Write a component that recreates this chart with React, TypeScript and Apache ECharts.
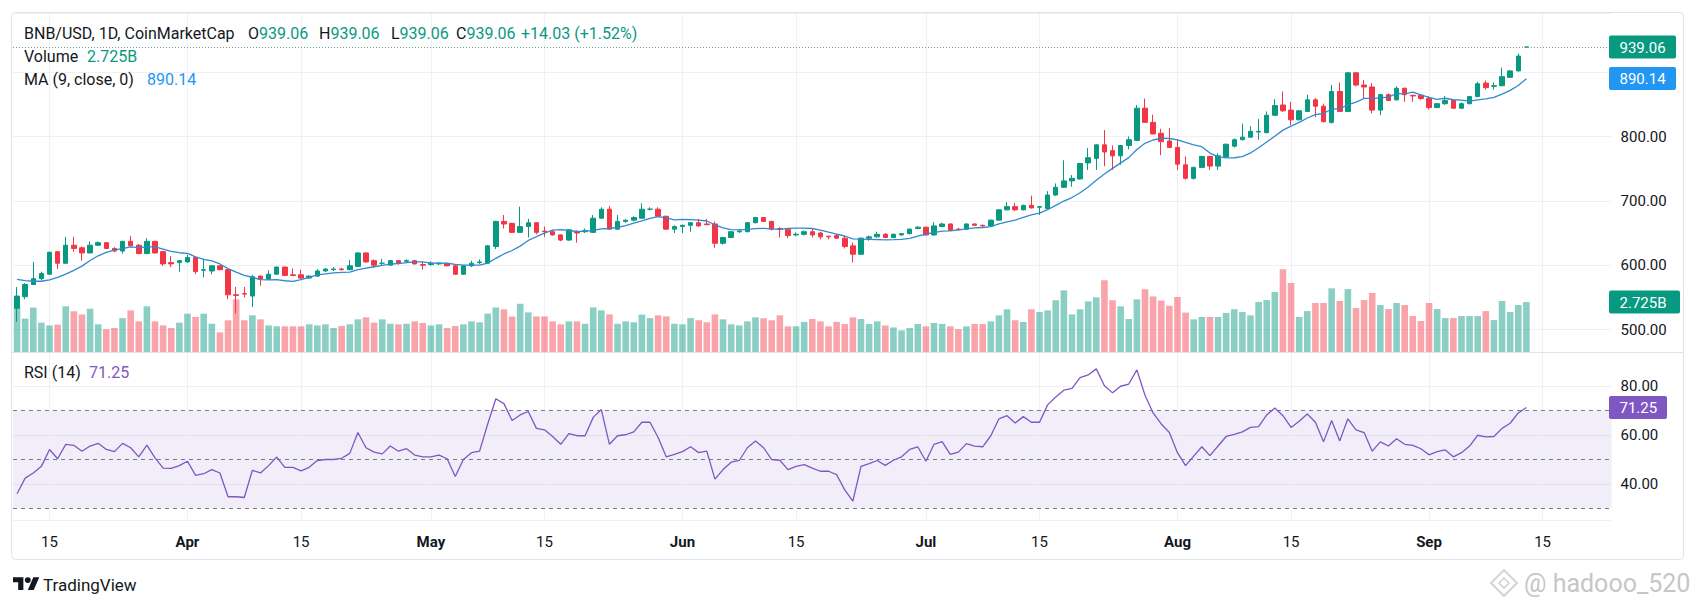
import React, { useEffect, useRef } from "react";
import * as echarts from "echarts";

// ---------------- DATA ----------------
const FIRST_DAY_UTC = Date.UTC(2025, 2, 11); // 2025-03-11
const SLOT_COUNT = 197; // bars shown + empty future space on the time axis
const MONTH_NAMES = ["Jan", "Feb", "Mar", "Apr", "May", "Jun", "Jul", "Aug", "Sep", "Oct", "Nov", "Dec"];

const opens = [
  533, 551, 570, 579, 586, 621, 603, 631, 627, 619,
  631, 635, 626, 622, 637, 631, 618, 637, 621, 604,
  604, 605, 612, 592, 591, 599, 593, 554, 556, 552,
  583, 578, 586, 597, 585, 585, 580, 583, 591, 593,
  594, 593, 598, 619, 607, 603, 600, 607, 606, 607,
  601, 601, 602, 602, 599, 586, 599, 604, 603, 629,
  668, 665, 651, 660, 666, 653, 652, 647, 639, 652,
  652, 651, 673, 687, 656, 668, 670, 673, 687, 687,
  676, 656, 660, 662, 666, 664, 664, 634, 643, 652,
  652, 666, 674, 668, 657, 656, 647, 648, 652, 650,
  645, 646, 642, 630, 617, 642, 644, 648, 643, 647,
  649, 657, 659, 647, 660, 664, 656, 656, 664, 662,
  661, 670, 686, 691, 686, 693, 690, 688, 709, 721,
  731, 734, 759, 766, 787, 778, 770, 786, 794, 844,
  822, 805, 793, 783, 756, 735, 752, 769, 754, 768,
  785, 795, 799, 807, 806, 833, 849, 841, 826, 839,
  857, 847, 822, 870, 839, 899, 880, 877, 841, 865,
  857, 875, 864, 864, 859, 845, 851, 856, 844, 851,
  862, 883, 878, 879, 892, 902, 939.06,
];
const closes = [
  552, 570, 579, 587, 620, 603, 631, 626, 619, 631,
  635, 626, 622, 637, 630, 618, 637, 619, 602, 602,
  607, 612, 590, 593, 599, 593, 554, 553, 555, 582,
  578, 586, 597, 584, 584, 580, 583, 591, 594, 594,
  593, 599, 619, 605, 600, 603, 607, 603, 607, 602,
  600, 603, 603, 599, 586, 599, 603, 605, 630, 668,
  664, 651, 660, 666, 651, 652, 647, 639, 655, 650,
  654, 673, 687, 656, 668, 670, 674, 687, 687, 676,
  656, 660, 662, 666, 661, 663, 634, 643, 652, 653,
  666, 674, 668, 656, 656, 646, 648, 652, 647, 644,
  644, 642, 629, 617, 642, 644, 648, 643, 648, 649,
  656, 659, 647, 661, 664, 654, 655, 664, 662, 661,
  670, 686, 691, 686, 693, 689, 691, 709, 721, 731,
  735, 758, 767, 787, 776, 770, 786, 795, 844, 822,
  804, 792, 783, 757, 735, 752, 769, 754, 770, 788,
  795, 799, 808, 808, 833, 848, 840, 826, 840, 857,
  847, 823, 870, 839, 899, 880, 877, 841, 865, 856,
  875, 865, 863, 859, 845, 851, 856, 844, 851, 862,
  882, 876, 879, 893, 902, 925.03, 939.06,
];
const highs = [
  566, 572, 605, 590, 621, 622, 644, 644, 629, 637,
  637, 636, 628, 638, 645, 633, 642, 638, 622, 614,
  608, 616, 613, 610, 600, 600, 594, 566, 566, 585,
  584, 592, 598, 598, 595, 593, 584, 594, 595, 597,
  596, 608, 620, 620, 609, 610, 608, 608, 609, 608,
  605, 606, 605, 604, 600, 600, 607, 609, 631, 669,
  678, 666, 691, 672, 667, 660, 655, 648, 656, 654,
  657, 678, 690, 692, 678, 671, 676, 696, 690, 690,
  677, 662, 663, 667, 672, 672, 668, 644, 653, 656,
  667, 675, 675, 669, 659, 657, 651, 654, 657, 652,
  646, 648, 645, 635, 643, 646, 652, 650, 649, 650,
  657, 661, 660, 667, 666, 665, 658, 665, 665, 663,
  671, 687, 698, 697, 694, 708, 692, 715, 727, 763,
  740, 759, 782, 788, 810, 786, 787, 800, 849, 859,
  834, 812, 813, 795, 769, 753, 770, 770, 774, 789,
  797, 820, 816, 827, 839, 858, 870, 854, 841, 865,
  860, 851, 880, 884, 900, 900, 888, 883, 866, 867,
  878, 876, 865, 866, 863, 852, 863, 857, 853, 863,
  885, 887, 884, 907, 903, 929, 939.06,
];
const lows = [
  512, 547, 569, 577, 585, 594, 602, 621, 607, 618,
  630, 625, 620, 618, 629, 617, 617, 618, 599, 597,
  590, 604, 586, 581, 586, 592, 547, 525, 550, 535,
  568, 577, 585, 583, 583, 579, 579, 582, 590, 591,
  592, 592, 597, 604, 596, 600, 599, 601, 604, 601,
  593, 599, 600, 598, 585, 585, 597, 602, 602, 625,
  657, 650, 650, 643, 648, 644, 646, 637, 638, 635,
  650, 650, 672, 655, 655, 666, 668, 672, 685, 675,
  655, 650, 650, 652, 660, 662, 627, 632, 642, 650,
  651, 665, 667, 654, 643, 642, 645, 646, 643, 640,
  640, 641, 626, 604, 616, 638, 643, 642, 642, 646,
  648, 656, 646, 646, 659, 653, 654, 655, 661, 660,
  660, 669, 685, 684, 685, 688, 678, 687, 708, 720,
  722, 733, 748, 748, 754, 748, 756, 780, 793, 821,
  803, 771, 782, 748, 733, 733, 751, 748, 748, 767,
  783, 794, 798, 795, 805, 832, 838, 818, 825, 838,
  830, 822, 820, 838, 838, 878, 859, 836, 833, 855,
  856, 854, 854, 857, 842, 844, 849, 843, 843, 850,
  861, 873, 873, 878, 891, 901, 939.06,
];
// volume in billions USD
const volumesB = [
  2.45, 1.82, 2.42, 1.60, 1.45, 1.49, 2.49, 2.22, 2.05, 2.36,
  1.51, 1.24, 1.31, 1.85, 2.27, 1.67, 2.49, 1.67, 1.45, 1.31,
  1.60, 2.09, 1.91, 2.09, 1.54, 1.07, 1.73, 2.87, 1.73, 2.00,
  1.78, 1.45, 1.40, 1.40, 1.40, 1.40, 1.51, 1.45, 1.51, 1.31,
  1.42, 1.51, 1.78, 1.89, 1.60, 1.78, 1.54, 1.51, 1.54, 1.67,
  1.58, 1.45, 1.51, 1.31, 1.42, 1.51, 1.67, 1.62, 2.09, 2.43,
  2.33, 1.94, 2.63, 2.16, 1.94, 1.94, 1.67, 1.51, 1.67, 1.67,
  1.54, 2.43, 2.27, 2.05, 1.54, 1.67, 1.62, 2.04, 1.85, 2.00,
  1.94, 1.54, 1.51, 1.85, 1.73, 1.62, 2.05, 1.78, 1.51, 1.45,
  1.67, 1.89, 1.84, 1.73, 2.00, 1.40, 1.40, 1.64, 1.80, 1.67,
  1.40, 1.64, 1.53, 1.89, 1.80, 1.53, 1.67, 1.45, 1.34, 1.18,
  1.31, 1.53, 1.40, 1.58, 1.53, 1.40, 1.25, 1.40, 1.53, 1.53,
  1.67, 2.00, 2.33, 1.73, 1.64, 2.33, 2.18, 2.27, 2.82, 3.36,
  2.05, 2.33, 2.76, 2.98, 3.91, 2.82, 2.49, 1.80, 2.87, 3.42,
  3.03, 2.80, 2.52, 3.00, 2.15, 1.78, 1.91, 1.91, 1.91, 2.13,
  2.33, 2.18, 2.00, 2.73, 2.83, 3.27, 4.51, 3.76, 1.91, 2.23,
  2.67, 2.67, 3.47, 2.78, 3.43, 2.40, 2.83, 3.22, 2.56, 2.34,
  2.67, 2.56, 1.96, 1.69, 2.67, 2.34, 1.85, 1.85, 1.96, 1.96,
  1.96, 2.23, 1.74, 2.78, 2.18, 2.56, 2.725,
];
const rsiValues = [
  36, 42.4, 44.5, 47.2, 54.1, 50.3, 56.2, 55.8, 53.4, 55.5,
  56.6, 54.1, 53.2, 56.6, 54.8, 51.1, 55.9, 50.7, 46.5, 46.4,
  47.5, 49.3, 43.5, 44.2, 45.9, 44.5, 34.8, 34.8, 34.5, 45.6,
  44.5, 47.5, 51.0, 46.8, 46.8, 45.4, 46.8, 49.6, 50.0, 50.0,
  50.5, 52.5, 61.0, 54.8, 53.0, 52.3, 55.5, 53.4, 54.4, 51.8,
  51.1, 51.1, 51.8, 50.3, 43.1, 50.0, 52.8, 53.4, 64.5, 74.8,
  72.8, 65.9, 68.2, 69.6, 62.7, 62.1, 59.4, 56.2, 60.6, 59.7,
  59.7, 67.2, 70.4, 56.2, 59.7, 60.1, 61.3, 65.2, 65.2, 59.0,
  51.1, 52.1, 53.2, 55.2, 52.8, 53.4, 42.0, 45.9, 48.9, 49.6,
  54.8, 57.6, 54.8, 50.0, 49.7, 45.9, 47.2, 47.9, 46.5, 45.2,
  45.2, 43.8, 37.6, 33.0, 47.2, 48.3, 49.6, 47.6, 49.7, 51.1,
  54.1, 55.2, 49.3, 56.2, 57.3, 52.1, 53.0, 56.5, 55.5, 55.2,
  59.7, 66.6, 67.9, 64.9, 67.5, 65.2, 65.2, 72.3, 75.5, 78.3,
  79.0, 83.4, 84.5, 87.0, 80.1, 77.2, 79.9, 80.8, 86.6, 76.2,
  69.0, 64.5, 61.0, 52.8, 47.5, 51.4, 55.2, 51.6, 55.5, 59.4,
  60.3, 61.3, 63.1, 63.4, 68.2, 71.0, 67.9, 63.1, 65.6, 68.6,
  65.2, 57.2, 65.9, 57.6, 66.6, 62.1, 61.0, 53.4, 57.2, 55.5,
  58.5, 56.2, 55.8, 54.4, 51.9, 53.2, 53.9, 51.1, 52.8, 55.5,
  59.9, 59.2, 59.4, 62.7, 64.8, 69.0, 71.25,
];
// MA(9) values of the first 8 bars (their earlier closes are off-chart)
const maLead = [578, 576, 575, 575, 577, 581, 586, 592];
const maLastLabel = 890.14;
const priceAxisLabels = [500, 600, 700, 800];
const rsiAxisLabels = [40, 60, 80];
const rsiLevels = [70, 50, 30];

// ---------------- STYLE ----------------
const FONT = "Roboto, 'Noto Sans', sans-serif";
const TEXT = "#131722";
const UP = "#089981";
const DOWN = "#F23645";
const UP_VOL = "rgba(8,153,129,0.47)";
const DOWN_VOL = "rgba(242,54,69,0.45)";
const MA_COLOR = "#2196F3";
const MA_LINE = "#3189cf";
const RSI_COLOR = "#7E57C2";
const GRID_COLOR = "#eef0f4";

const tvLogoPath = "M14 22H7V11H0V4h14v18zM28 22h-8l7.5-18h8L28 22zM20 4a4 4 0 1 1 0 8a4 4 0 1 1 0-8z";
echarts.graphic.registerShape("tvlogo", echarts.graphic.extendPath(tvLogoPath, {}));

function buildDates(): string[] {
  const out: string[] = [];
  for (let k = 0; k < SLOT_COUNT; k++) {
    out.push(new Date(FIRST_DAY_UTC + k * 86400000).toISOString().slice(0, 10));
  }
  return out;
}

function isMarkDay(d: string) {
  const day = Number(d.slice(8, 10));
  return day === 1 || day === 15;
}

export default function App() {
  const ref = useRef<HTMLDivElement>(null);

  useEffect(() => {
    document.body.style.margin = "0";
    const chart = echarts.init(ref.current!, null, { renderer: "svg" });

    const dates = buildDates();
    const n = closes.length;
    const isUp = (i: number) =>
      closes[i] > opens[i] || (closes[i] === opens[i] && i > 0 && closes[i] >= closes[i - 1]);

    const maValues = closes.map((_, i) => {
      if (i < 8) return maLead[i];
      let s = 0;
      for (let k = i - 8; k <= i; k++) s += closes[k];
      return Math.round((s / 9) * 100) / 100;
    });

    const vLines = dates.filter(isMarkDay).map((d) => ({ xAxis: d }));
    const lastClose = closes[n - 1];
    const lastVol = volumesB[n - 1];
    const lastRsi = rsiValues[n - 1];

    const GL = 13;
    const GR = 85.4;

    const option: any = {
      animation: false,
      backgroundColor: "#ffffff",
      textStyle: { fontFamily: FONT },
      grid: [
        { left: GL, right: GR, top: 13, height: 339 },
        { left: GL, right: GR, top: 13, height: 339 },
        { left: GL, right: GR, top: 352, height: 168 },
      ],
      xAxis: [
        { type: "category", gridIndex: 0, data: dates, boundaryGap: true, show: false },
        { type: "category", gridIndex: 1, data: dates, boundaryGap: true, show: false },
        {
          type: "category",
          gridIndex: 2,
          data: dates,
          boundaryGap: true,
          axisLine: { show: false },
          axisTick: { show: false },
          splitLine: { show: false },
          axisLabel: {
            interval: (_i: number, v: string) => isMarkDay(v),
            formatter: (v: string) => {
              const day = Number(v.slice(8, 10));
              if (day === 1) return `{m|${MONTH_NAMES[Number(v.slice(5, 7)) - 1]}}`;
              return String(day);
            },
            margin: 14,
            fontSize: 15,
            color: TEXT,
            fontFamily: FONT,
            rich: { m: { fontWeight: "bold", fontSize: 15, color: TEXT, fontFamily: FONT } },
          },
        },
      ],
      yAxis: [
        {
          type: "value",
          gridIndex: 0,
          position: "right",
          min: 465.03,
          max: 991.97,
          splitNumber: 5,
          axisLine: { show: false },
          axisTick: { show: false },
          splitLine: { show: true, lineStyle: { color: GRID_COLOR, width: 1 } },
          axisLabel: {
            margin: 9,
            fontSize: 15,
            color: TEXT,
            fontFamily: FONT,
            showMinLabel: false,
            showMaxLabel: false,
            formatter: (v: number) =>
              priceAxisLabels.indexOf(Math.round(v)) >= 0 && Math.abs(v - Math.round(v)) < 1e-6 ? v.toFixed(2) : "",
          },
        },
        { type: "value", gridIndex: 1, min: 0, max: 18.48, show: false },
        {
          type: "value",
          gridIndex: 2,
          position: "right",
          min: 25.31,
          max: 93.88,
          splitNumber: 3,
          axisLine: { show: false },
          axisTick: { show: false },
          splitLine: { show: true, lineStyle: { color: GRID_COLOR, width: 1 } },
          axisLabel: {
            margin: 9,
            fontSize: 15,
            color: TEXT,
            fontFamily: FONT,
            showMinLabel: false,
            showMaxLabel: false,
            formatter: (v: number) =>
              rsiAxisLabels.indexOf(Math.round(v)) >= 0 && Math.abs(v - Math.round(v)) < 1e-6 ? v.toFixed(2) : "",
          },
        },
      ],
      series: [
        {
          type: "bar",
          name: "Volume",
          xAxisIndex: 1,
          yAxisIndex: 1,
          barWidth: 6.6,
          silent: true,
          z: 1,
          data: volumesB.map((v, i) => ({ value: v, itemStyle: { color: isUp(i) ? UP_VOL : DOWN_VOL } })),
        },
        {
          type: "candlestick",
          name: "BNB/USD",
          xAxisIndex: 0,
          yAxisIndex: 0,
          barWidth: 5,
          silent: true,
          z: 3,
          data: opens.map((o, i) => [o, closes[i], lows[i], highs[i]]),
          itemStyle: { color: UP, color0: DOWN, borderColor: UP, borderColor0: DOWN, borderWidth: 1 },
          markLine: {
            silent: true,
            symbol: ["none", "none"],
            label: { show: false },
            emphasis: { disabled: true },
            lineStyle: { color: "#6a9f97", type: [1, 2], width: 1 },
            data: [{ yAxis: lastClose }],
          },
        },
        {
          type: "line",
          name: "MA",
          xAxisIndex: 0,
          yAxisIndex: 0,
          data: maValues,
          showSymbol: false,
          silent: true,
          z: 4,
          lineStyle: { color: MA_LINE, width: 1.3 },
          markLine: {
            silent: true,
            z: 1,
            symbol: ["none", "none"],
            label: { show: false },
            emphasis: { disabled: true },
            lineStyle: { color: GRID_COLOR, type: "solid", width: 1 },
            data: vLines,
          },
        },
        {
          type: "line",
          name: "RSI",
          xAxisIndex: 2,
          yAxisIndex: 2,
          data: rsiValues,
          showSymbol: false,
          silent: true,
          z: 4,
          lineStyle: { color: RSI_COLOR, width: 1.3 },
          markArea: {
            silent: true,
            itemStyle: { color: "rgba(126,87,194,0.1)" },
            data: [[{ yAxis: rsiLevels[0] }, { yAxis: rsiLevels[2] }]],
          },
          markLine: {
            silent: true,
            z: 1,
            symbol: ["none", "none"],
            label: { show: false },
            emphasis: { disabled: true },
            lineStyle: { color: GRID_COLOR, type: "solid", width: 1 },
            data: [
              ...vLines,
              ...rsiLevels.map((v) => ({
                yAxis: v,
                lineStyle: { color: "#787B86", type: [4, 4], width: 1 },
              })),
            ],
          },
        },
      ],
    };

    chart.setOption(option);

    const yPrice = chart.convertToPixel({ yAxisIndex: 0 }, lastClose) as number;
    const yMa = chart.convertToPixel({ yAxisIndex: 0 }, maLastLabel) as number;
    const yVol = chart.convertToPixel({ yAxisIndex: 1 }, lastVol) as number;
    const yRsi = chart.convertToPixel({ yAxisIndex: 2 }, lastRsi) as number;

    const change = lastClose - closes[n - 2];
    const pct = (change / closes[n - 2]) * 100;
    const sign = change >= 0 ? "+" : "-";
    const f2 = (v: number) => v.toFixed(2);

    const txt = (x: number, y: number, text: string, fill: string, size = 16, weight = "normal", extra: any = {}) => ({
      type: "text",
      x,
      y,
      z: 100,
      silent: true,
      style: { text, fill, font: `${weight} ${size}px ${FONT}`, verticalAlign: "middle", ...extra },
    });
    const pair = (x: number, y: number, l: string, v: string, vColor: string) => ({
      type: "text",
      x,
      y,
      z: 100,
      silent: true,
      style: {
        text: `{l|${l}}{v|${v}}`,
        font: `16px ${FONT}`,
        verticalAlign: "middle",
        rich: {
          l: { fill: TEXT, font: `16px ${FONT}` },
          v: { fill: vColor, font: `16px ${FONT}` },
        },
      },
    });
    const box = (cy: number, w: number, text: string, color: string) => [
      { type: "rect", z: 100, silent: true, shape: { x: 1609, y: cy - 11.5, width: w, height: 23, r: 2 }, style: { fill: color } },
      txt(1619.5, cy + 0.5, text, "#ffffff", 15),
    ];

    const graphic: any[] = [
      // frame + pane separator
      {
        type: "rect",
        z: 90,
        silent: true,
        shape: { x: 11.5, y: 12.5, width: 1672, height: 547, r: 4 },
        style: { fill: "none", stroke: "#e0e3eb", lineWidth: 1 },
      },
      {
        type: "line",
        z: 90,
        silent: true,
        shape: { x1: 11.5, y1: 352.5, x2: 1683.5, y2: 352.5 },
        style: { stroke: "#e0e3eb", lineWidth: 1 },
      },
      // legend
      txt(24, 33.5, "BNB/USD, 1D, CoinMarketCap", TEXT),
      pair(248, 33.5, "O", f2(opens[n - 1]), UP),
      pair(319, 33.5, "H", f2(highs[n - 1]), UP),
      pair(391, 33.5, "L", f2(lows[n - 1]), UP),
      pair(456, 33.5, "C", f2(lastClose), UP),
      txt(521, 33.5, `${sign}${f2(Math.abs(change))} (${sign}${f2(Math.abs(pct))}%)`, UP),
      txt(24, 56.5, "Volume", TEXT),
      txt(87, 56.5, `${lastVol.toFixed(3)}B`, UP),
      txt(24, 79.5, "MA (9, close, 0)", TEXT),
      txt(147, 79.5, f2(maLastLabel), MA_COLOR),
      txt(24, 372.5, "RSI (14)", TEXT),
      txt(89, 372.5, f2(lastRsi), RSI_COLOR),
      // price-scale labels
      ...box(yPrice, 67, f2(lastClose), UP),
      ...box(yMa, 67, f2(maLastLabel), MA_COLOR),
      ...box(yVol, 71, `${lastVol.toFixed(3)}B`, UP),
      ...box(yRsi, 58, f2(lastRsi), RSI_COLOR),
      // TradingView brand
      { type: "tvlogo", x: 13, y: 574.5, scaleX: 0.74, scaleY: 0.7, z: 100, silent: true, style: { fill: TEXT } },
      txt(43, 584.5, "TradingView", TEXT, 17, "normal"),
      // watermark
      {
        type: "polygon",
        z: 100,
        silent: true,
        shape: { points: [[1504, 570], [1517, 583], [1504, 596], [1491, 583]] },
        style: { fill: "none", stroke: "#d4d4d4", lineWidth: 2 },
      },
      {
        type: "polygon",
        z: 100,
        silent: true,
        shape: { points: [[1504, 578], [1509, 583], [1504, 588], [1499, 583]] },
        style: { fill: "none", stroke: "#d4d4d4", lineWidth: 1.6 },
      },
      txt(1524, 583, "@ hadooo_520", "#c6c6c6", 25),
    ];

    chart.setOption({ graphic });

    return () => chart.dispose();
  }, []);

  return (
    <div
      ref={ref}
      style={{ position: "fixed", left: 0, top: 0, width: 1697, height: 607, background: "#ffffff" }}
    />
  );
}
